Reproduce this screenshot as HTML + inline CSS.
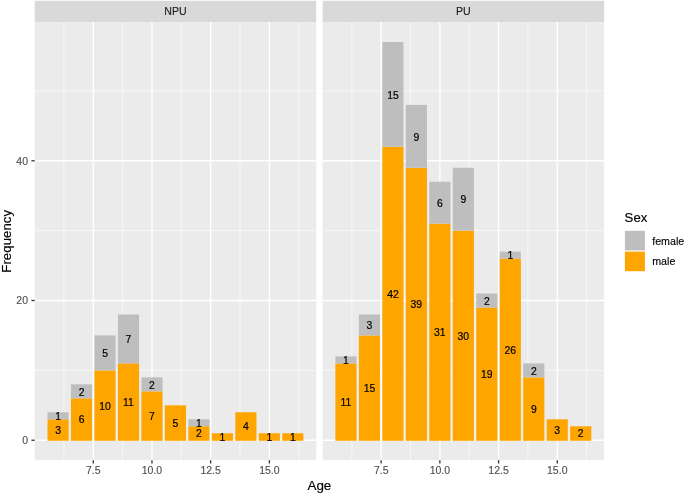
<!DOCTYPE html>
<html lang="en"><head><meta charset="utf-8"><title>Age frequency by group and sex</title>
<style>html,body{margin:0;padding:0;background:#fff;overflow:hidden}svg{display:block;filter:blur(0.55px)}</style></head>
<body>
<svg width="685" height="494" viewBox="0 0 685 494" font-family="'Liberation Sans', Arial, sans-serif">
<rect width="685" height="494" fill="#fff"/>
<g>
<rect x="34.70" y="0.8" width="281.5" height="21.30" fill="#D9D9D9"/>
<rect x="34.70" y="22.1" width="281.5" height="438.05" fill="#EBEBEB"/>
<line x1="34.70" x2="316.20" y1="370.37" y2="370.37" stroke="#fff" stroke-width="0.7" stroke-opacity="0.9"/>
<line x1="34.70" x2="316.20" y1="230.65" y2="230.65" stroke="#fff" stroke-width="0.7" stroke-opacity="0.9"/>
<line x1="34.70" x2="316.20" y1="90.92" y2="90.92" stroke="#fff" stroke-width="0.7" stroke-opacity="0.9"/>
<line y1="22.1" y2="460.15" x1="63.93" x2="63.93" stroke="#fff" stroke-width="0.7" stroke-opacity="0.9"/>
<line y1="22.1" y2="460.15" x1="122.62" x2="122.62" stroke="#fff" stroke-width="0.7" stroke-opacity="0.9"/>
<line y1="22.1" y2="460.15" x1="181.32" x2="181.32" stroke="#fff" stroke-width="0.7" stroke-opacity="0.9"/>
<line y1="22.1" y2="460.15" x1="240.01" x2="240.01" stroke="#fff" stroke-width="0.7" stroke-opacity="0.9"/>
<line y1="22.1" y2="460.15" x1="298.71" x2="298.71" stroke="#fff" stroke-width="0.7" stroke-opacity="0.9"/>
<line x1="34.70" x2="316.20" y1="440.24" y2="440.24" stroke="#fff" stroke-width="1.35"/>
<line x1="34.70" x2="316.20" y1="300.51" y2="300.51" stroke="#fff" stroke-width="1.35"/>
<line x1="34.70" x2="316.20" y1="160.78" y2="160.78" stroke="#fff" stroke-width="1.35"/>
<line y1="22.1" y2="460.15" x1="93.28" x2="93.28" stroke="#fff" stroke-width="1.35"/>
<line y1="22.1" y2="460.15" x1="151.97" x2="151.97" stroke="#fff" stroke-width="1.35"/>
<line y1="22.1" y2="460.15" x1="210.67" x2="210.67" stroke="#fff" stroke-width="1.35"/>
<line y1="22.1" y2="460.15" x1="269.36" x2="269.36" stroke="#fff" stroke-width="1.35"/>
<rect x="47.50" y="419.28" width="21.13" height="21.51" fill="#FFA500"/>
<rect x="47.50" y="412.29" width="21.13" height="6.99" fill="#BEBEBE"/>
<rect x="70.97" y="398.32" width="21.13" height="42.47" fill="#FFA500"/>
<rect x="70.97" y="384.35" width="21.13" height="13.97" fill="#BEBEBE"/>
<rect x="94.45" y="370.37" width="21.13" height="70.41" fill="#FFA500"/>
<rect x="94.45" y="335.44" width="21.13" height="34.93" fill="#BEBEBE"/>
<rect x="117.93" y="363.39" width="21.13" height="77.40" fill="#FFA500"/>
<rect x="117.93" y="314.48" width="21.13" height="48.91" fill="#BEBEBE"/>
<rect x="141.41" y="391.33" width="21.13" height="49.46" fill="#FFA500"/>
<rect x="141.41" y="377.36" width="21.13" height="13.97" fill="#BEBEBE"/>
<rect x="164.88" y="405.31" width="21.13" height="35.48" fill="#FFA500"/>
<rect x="188.36" y="426.27" width="21.13" height="14.52" fill="#FFA500"/>
<rect x="188.36" y="419.28" width="21.13" height="6.99" fill="#BEBEBE"/>
<rect x="211.84" y="433.25" width="21.13" height="7.54" fill="#FFA500"/>
<rect x="235.32" y="412.29" width="21.13" height="28.50" fill="#FFA500"/>
<rect x="258.80" y="433.25" width="21.13" height="7.54" fill="#FFA500"/>
<rect x="282.27" y="433.25" width="21.13" height="7.54" fill="#FFA500"/>
<g font-size="10.4" text-anchor="middle" fill="#000" stroke="#000" stroke-width="0.2">
<text x="58.06" y="433.96">3</text>
<text x="58.06" y="419.99">1</text>
<text x="81.54" y="423.48">6</text>
<text x="81.54" y="395.53">2</text>
<text x="105.02" y="409.51">10</text>
<text x="105.02" y="357.11">5</text>
<text x="128.49" y="406.01">11</text>
<text x="128.49" y="343.14">7</text>
<text x="151.97" y="419.99">7</text>
<text x="151.97" y="388.55">2</text>
<text x="175.45" y="426.97">5</text>
<text x="198.93" y="437.45">2</text>
<text x="198.93" y="426.97">1</text>
<text x="222.41" y="440.95">1</text>
<text x="245.88" y="430.47">4</text>
<text x="269.36" y="440.95">1</text>
<text x="292.84" y="440.95">1</text>
</g>
<text x="175.45" y="15.1" font-size="10.6" text-anchor="middle" fill="#1A1A1A" stroke="#1A1A1A" stroke-width="0.12">NPU</text>
<g font-size="10.5" text-anchor="middle" fill="#4D4D4D" stroke="#4D4D4D" stroke-width="0.12">
<line x1="93.28" x2="93.28" y1="460.15" y2="463.45" stroke="#333" stroke-width="1.3"/>
<text x="93.28" y="474.15">7.5</text>
<line x1="151.97" x2="151.97" y1="460.15" y2="463.45" stroke="#333" stroke-width="1.3"/>
<text x="151.97" y="474.15">10.0</text>
<line x1="210.67" x2="210.67" y1="460.15" y2="463.45" stroke="#333" stroke-width="1.3"/>
<text x="210.67" y="474.15">12.5</text>
<line x1="269.36" x2="269.36" y1="460.15" y2="463.45" stroke="#333" stroke-width="1.3"/>
<text x="269.36" y="474.15">15.0</text>
</g>
</g>
<g>
<rect x="322.60" y="0.8" width="281.5" height="21.30" fill="#D9D9D9"/>
<rect x="322.60" y="22.1" width="281.5" height="438.05" fill="#EBEBEB"/>
<line x1="322.60" x2="604.10" y1="370.37" y2="370.37" stroke="#fff" stroke-width="0.7" stroke-opacity="0.9"/>
<line x1="322.60" x2="604.10" y1="230.65" y2="230.65" stroke="#fff" stroke-width="0.7" stroke-opacity="0.9"/>
<line x1="322.60" x2="604.10" y1="90.92" y2="90.92" stroke="#fff" stroke-width="0.7" stroke-opacity="0.9"/>
<line y1="22.1" y2="460.15" x1="351.83" x2="351.83" stroke="#fff" stroke-width="0.7" stroke-opacity="0.9"/>
<line y1="22.1" y2="460.15" x1="410.52" x2="410.52" stroke="#fff" stroke-width="0.7" stroke-opacity="0.9"/>
<line y1="22.1" y2="460.15" x1="469.22" x2="469.22" stroke="#fff" stroke-width="0.7" stroke-opacity="0.9"/>
<line y1="22.1" y2="460.15" x1="527.91" x2="527.91" stroke="#fff" stroke-width="0.7" stroke-opacity="0.9"/>
<line y1="22.1" y2="460.15" x1="586.61" x2="586.61" stroke="#fff" stroke-width="0.7" stroke-opacity="0.9"/>
<line x1="322.60" x2="604.10" y1="440.24" y2="440.24" stroke="#fff" stroke-width="1.35"/>
<line x1="322.60" x2="604.10" y1="300.51" y2="300.51" stroke="#fff" stroke-width="1.35"/>
<line x1="322.60" x2="604.10" y1="160.78" y2="160.78" stroke="#fff" stroke-width="1.35"/>
<line y1="22.1" y2="460.15" x1="381.18" x2="381.18" stroke="#fff" stroke-width="1.35"/>
<line y1="22.1" y2="460.15" x1="439.87" x2="439.87" stroke="#fff" stroke-width="1.35"/>
<line y1="22.1" y2="460.15" x1="498.57" x2="498.57" stroke="#fff" stroke-width="1.35"/>
<line y1="22.1" y2="460.15" x1="557.26" x2="557.26" stroke="#fff" stroke-width="1.35"/>
<rect x="335.40" y="363.39" width="21.13" height="77.40" fill="#FFA500"/>
<rect x="335.40" y="356.40" width="21.13" height="6.99" fill="#BEBEBE"/>
<rect x="358.87" y="335.44" width="21.13" height="105.35" fill="#FFA500"/>
<rect x="358.87" y="314.48" width="21.13" height="20.96" fill="#BEBEBE"/>
<rect x="382.35" y="146.81" width="21.13" height="293.98" fill="#FFA500"/>
<rect x="382.35" y="42.01" width="21.13" height="104.80" fill="#BEBEBE"/>
<rect x="405.83" y="167.77" width="21.13" height="273.02" fill="#FFA500"/>
<rect x="405.83" y="104.89" width="21.13" height="62.88" fill="#BEBEBE"/>
<rect x="429.31" y="223.66" width="21.13" height="217.13" fill="#FFA500"/>
<rect x="429.31" y="181.74" width="21.13" height="41.92" fill="#BEBEBE"/>
<rect x="452.78" y="230.65" width="21.13" height="210.14" fill="#FFA500"/>
<rect x="452.78" y="167.77" width="21.13" height="62.88" fill="#BEBEBE"/>
<rect x="476.26" y="307.50" width="21.13" height="133.29" fill="#FFA500"/>
<rect x="476.26" y="293.52" width="21.13" height="13.97" fill="#BEBEBE"/>
<rect x="499.74" y="258.59" width="21.13" height="182.20" fill="#FFA500"/>
<rect x="499.74" y="251.60" width="21.13" height="6.99" fill="#BEBEBE"/>
<rect x="523.22" y="377.36" width="21.13" height="63.43" fill="#FFA500"/>
<rect x="523.22" y="363.39" width="21.13" height="13.97" fill="#BEBEBE"/>
<rect x="546.70" y="419.28" width="21.13" height="21.51" fill="#FFA500"/>
<rect x="570.17" y="426.27" width="21.13" height="14.52" fill="#FFA500"/>
<g font-size="10.4" text-anchor="middle" fill="#000" stroke="#000" stroke-width="0.2">
<text x="345.96" y="406.01">11</text>
<text x="345.96" y="364.09">1</text>
<text x="369.44" y="392.04">15</text>
<text x="369.44" y="329.16">3</text>
<text x="392.92" y="297.72">42</text>
<text x="392.92" y="98.61">15</text>
<text x="416.39" y="308.20">39</text>
<text x="416.39" y="140.53">9</text>
<text x="439.87" y="336.15">31</text>
<text x="439.87" y="206.90">6</text>
<text x="463.35" y="339.64">30</text>
<text x="463.35" y="203.41">9</text>
<text x="486.83" y="378.07">19</text>
<text x="486.83" y="304.71">2</text>
<text x="510.31" y="353.61">26</text>
<text x="510.31" y="259.30">1</text>
<text x="533.78" y="413.00">9</text>
<text x="533.78" y="374.57">2</text>
<text x="557.26" y="433.96">3</text>
<text x="580.74" y="437.45">2</text>
</g>
<text x="463.35" y="15.1" font-size="10.6" text-anchor="middle" fill="#1A1A1A" stroke="#1A1A1A" stroke-width="0.12">PU</text>
<g font-size="10.5" text-anchor="middle" fill="#4D4D4D" stroke="#4D4D4D" stroke-width="0.12">
<line x1="381.18" x2="381.18" y1="460.15" y2="463.45" stroke="#333" stroke-width="1.3"/>
<text x="381.18" y="474.15">7.5</text>
<line x1="439.87" x2="439.87" y1="460.15" y2="463.45" stroke="#333" stroke-width="1.3"/>
<text x="439.87" y="474.15">10.0</text>
<line x1="498.57" x2="498.57" y1="460.15" y2="463.45" stroke="#333" stroke-width="1.3"/>
<text x="498.57" y="474.15">12.5</text>
<line x1="557.26" x2="557.26" y1="460.15" y2="463.45" stroke="#333" stroke-width="1.3"/>
<text x="557.26" y="474.15">15.0</text>
</g>
</g>
<g font-size="10.5" text-anchor="end" fill="#4D4D4D" stroke="#4D4D4D" stroke-width="0.12">
<line x1="31.40" x2="34.7" y1="440.24" y2="440.24" stroke="#333" stroke-width="1.3"/>
<text x="28" y="444.04">0</text>
<line x1="31.40" x2="34.7" y1="300.51" y2="300.51" stroke="#333" stroke-width="1.3"/>
<text x="28" y="304.31">20</text>
<line x1="31.40" x2="34.7" y1="160.78" y2="160.78" stroke="#333" stroke-width="1.3"/>
<text x="28" y="164.58">40</text>
</g>
<text x="319.4" y="489.8" font-size="13.4" stroke="#000" stroke-width="0.15" text-anchor="middle" fill="#000">Age</text>
<text transform="translate(11.4,241.3) rotate(-90)" font-size="13.3" stroke="#000" stroke-width="0.15" text-anchor="middle" fill="#000">Frequency</text>
<text x="624.6" y="221.7" font-size="13.2" fill="#000" stroke="#000" stroke-width="0.15">Sex</text>
<rect x="624.9" y="230.8" width="20" height="19.6" fill="#BEBEBE"/>
<rect x="624.9" y="251.6" width="20" height="19.6" fill="#FFA500"/>
<text x="652.2" y="245" font-size="10.7" fill="#000" stroke="#000" stroke-width="0.12">female</text>
<text x="652.2" y="265.4" font-size="10.7" fill="#000" stroke="#000" stroke-width="0.12">male</text>
</svg>
</body></html>
